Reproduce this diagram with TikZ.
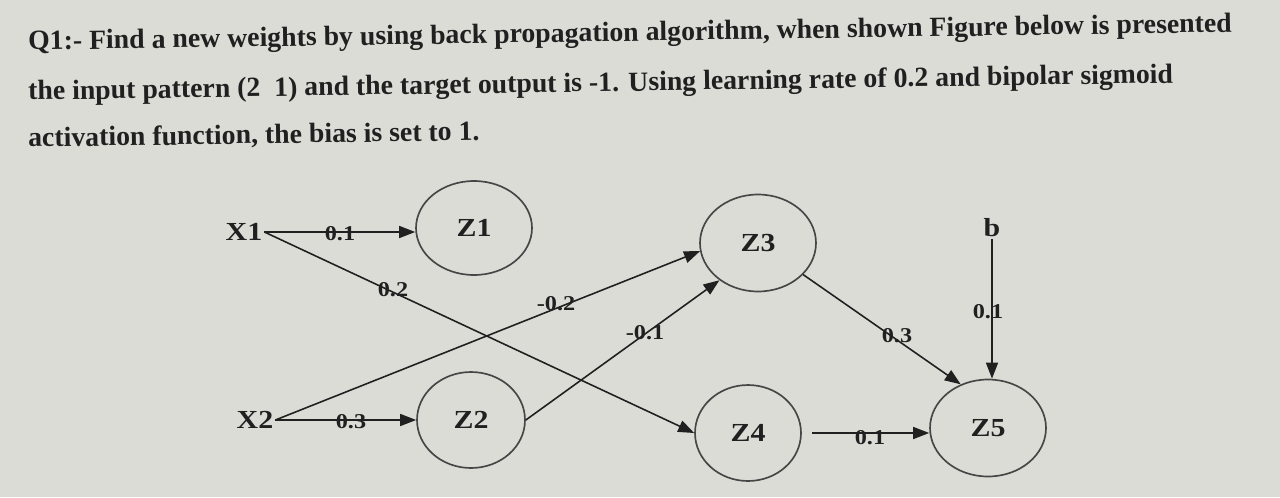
\documentclass[tikz,border=0pt]{standalone}
\usepackage{fontspec}
\setmainfont{Liberation Serif}
\usetikzlibrary{shapes.geometric,arrows.meta}
\definecolor{bg}{RGB}{220,220,215}
\definecolor{ink}{RGB}{32,32,32}
\definecolor{ring}{RGB}{70,70,70}
\newcommand\wx[1]{\scalebox{1.15}[1]{#1}}
\newcommand\tx[1]{\scalebox{1.04}[1.04]{#1}}
\begin{document}
\begin{tikzpicture}[x=0.02cm,y=-0.02cm,
  title/.style={anchor=base west,inner sep=0,text=ink,font=\bfseries\fontsize{15.2pt}{18pt}\selectfont,rotate=0.85},
  inp/.style={inner sep=1pt,text=ink,font=\bfseries\fontsize{14.8pt}{17pt}\selectfont},
  neuron/.style={ellipse,draw=ring,line width=0.95pt,inner sep=0,minimum width=2.3cm,minimum height=1.92cm,text=ink,font=\bfseries\fontsize{14.8pt}{17pt}\selectfont},
  wt/.style={inner sep=0,text=ink,font=\bfseries\fontsize{12pt}{14pt}\selectfont},
  conn/.style={draw=ink,line width=0.9pt,-{Triangle[length=0.32cm,width=0.24cm]}}]
\fill[bg] (0,0) rectangle (1280,497);
\useasboundingbox (0,0) rectangle (1280,497);
% question text
\node[title] (q1) at (28,50) {\tx{Q1:- Find a new weights by using back propagation algorithm, when shown Figure below is presented}};
\node[title] (q2) at (28,100) {\tx{the input pattern (2\enspace 1) and the target output is -1. Using learning rate of 0.2 and bipolar sigmoid}};
\node[title] (q3) at (28,147) {\tx{activation function, the bias is set to 1.}};
% nodes
\node[inp] (X1) at (244,232) {\wx{X1}};
\node[inp] (X2) at (255,420) {\wx{X2}};
\node[inp] (b) at (992,228) {\wx{b}};
\node[neuron,minimum width=2.32cm,minimum height=1.88cm] (Z1) at (474,228) {\wx{Z1}};
\node[neuron,minimum width=2.16cm,minimum height=1.92cm] (Z2) at (471,420) {\wx{Z2}};
\node[neuron,minimum width=2.32cm,minimum height=1.94cm] (Z3) at (758,243) {\wx{Z3}};
\node[neuron,minimum width=2.12cm,minimum height=1.92cm] (Z4) at (748,433) {\wx{Z4}};
\node[neuron,minimum width=2.32cm,minimum height=1.94cm] (Z5) at (988,428) {\wx{Z5}};
% connectors
\draw[conn] (X1.east) -- (X1.east -| Z1.west);
\draw[conn] (X1.east) -- (Z4.west);
\draw[conn] (X2.east) -- (Z2.west);
\draw[conn] (X2.east) -- (Z3.188);
\draw[conn] (Z2.east) -- (Z3.224);
\draw[conn] (Z3.325) -- (Z5.122);
\draw[conn,shorten <=6pt] (Z4.east) -- (Z4.east -| Z5.west);
\draw[conn] (b.south) -- (b.south |- Z5.north);
% weights
\node[wt] (w11) at (340,234) {\wx{0.1}};
\node[wt] (w14) at (393,290) {\wx{0.2}};
\node[wt] (w23) at (556,304) {\wx{-0.2}};
\node[wt] (w22) at (351,422) {\wx{0.3}};
\node[wt] (w33) at (645,333) {\wx{-0.1}};
\node[wt] (w35) at (897,336) {\wx{0.3}};
\node[wt] (wb5) at (988,312) {\wx{0.1}};
\node[wt] (w45) at (870,438) {\wx{0.1}};
\end{tikzpicture}
\end{document}
